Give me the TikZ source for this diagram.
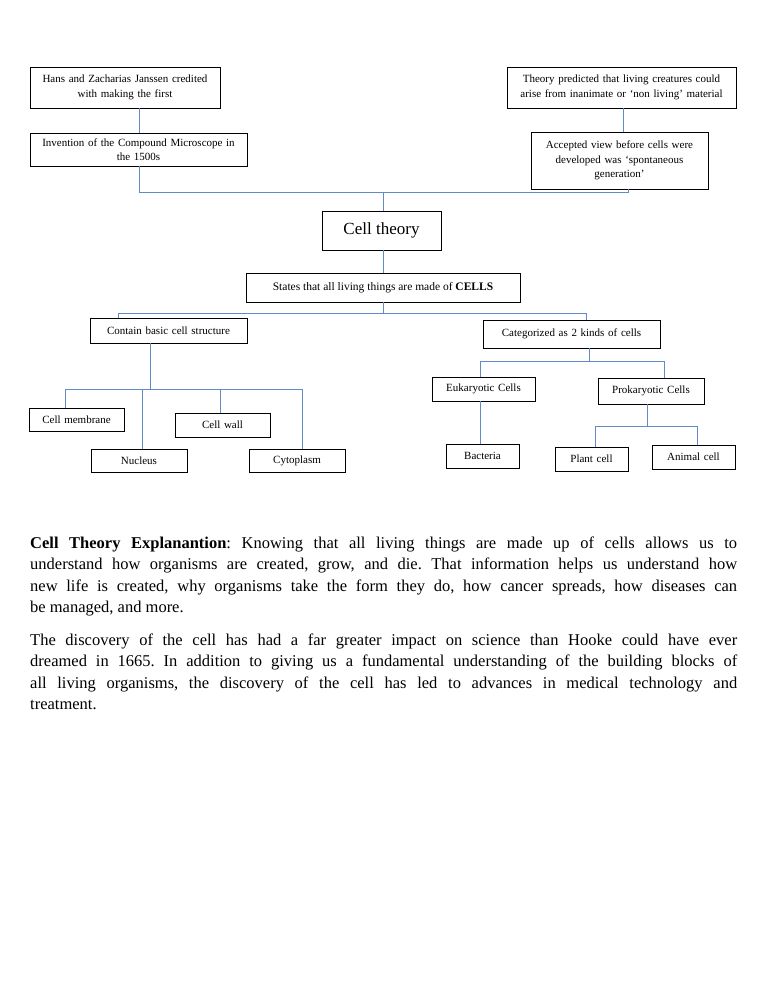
\documentclass[tikz,border=0pt]{standalone}
\usepackage{fontspec}
\setmainfont{Liberation Serif}
\frenchspacing
\definecolor{connblue}{RGB}{96,138,200}
\tikzset{
  box/.style={draw=black, line width=0.8pt, fill=white, inner sep=1pt, align=center,
    font=\fontsize{11}{14.5}\selectfont},
  conn/.style={draw=connblue, line width=0.8pt},
}
\newcommand{\bx}[6]{% name, x1, y1, x2, y2, text
  \node[box, minimum width={#4-#2}, minimum height={#5-#3}, text width={#4-#2-4}]
    (#1) at ({(#2+#4)/2},{(#3+#5)/2}) {#6};}
\begin{document}
\begin{tikzpicture}[x=1pt,y=-1pt]
\useasboundingbox[fill=white] (0,0) rectangle (768,1006);

\bx{hans}{30}{67}{220}{108}{Hans and Zacharias Janssen credited\\with making the first}
\bx{inv}{30}{133}{247}{166}{Invention of the Compound Microscope in\\the 1500s}
\bx{theory}{507}{67}{736}{108}{Theory predicted that living creatures could\\arise from inanimate or `non living' material}
\bx{acc}{531}{132}{708}{189}{Accepted view before cells were\\developed was `spontaneous\\generation'}
\node[box, minimum width=119, minimum height=39, font=\fontsize{17}{20}\selectfont] (ct) at (381.5,230.5) {Cell theory};
\node[box, minimum width=274, minimum height=29, font=\fontsize{11.5}{14}\selectfont] (states) at (383,287.5) {States that all living things are made of \textbf{CELLS}};
\bx{contain}{90}{318}{247}{343}{Contain basic cell structure}
\bx{cat}{483}{320}{660}{348}{Categorized as 2 kinds of cells}
\bx{euk}{432}{377}{535}{401}{Eukaryotic Cells}
\bx{pro}{598}{378}{704}{404}{Prokaryotic Cells}
\bx{mem}{29}{408}{124}{431}{Cell membrane}
\bx{wall}{175}{413}{270}{437}{Cell wall}
\bx{nuc}{91}{449}{187}{472}{Nucleus}
\bx{cyto}{249}{449}{345}{472}{Cytoplasm}
\bx{bac}{446}{444}{519}{468}{Bacteria}
\bx{plant}{555}{447}{628}{471}{Plant cell}
\bx{animal}{652}{445}{735}{469}{Animal cell}

% junction coordinates
\coordinate (j1) at (139,192);
\coordinate (j2) at (628,192);
\coordinate (j3) at (383,192);
\coordinate (j4) at (623,120);
\coordinate (k0) at (383,313);
\coordinate (k1) at (118,313);
\coordinate (k2) at (586,313);
\coordinate (m0) at (150,389);
\coordinate (m1) at (65,389);
\coordinate (m2) at (142,389);
\coordinate (m3) at (220,389);
\coordinate (m4) at (302,389);
\coordinate (n0) at (589,361);
\coordinate (n1) at (480,361);
\coordinate (n2) at (664,361);
\coordinate (p0) at (647,426);
\coordinate (p1) at (595,426);
\coordinate (p2) at (697,426);

\draw[conn] (hans.south -| j1) -- (inv.north -| j1);
\draw[conn] (inv.south -| j1) -- (j1) -- (j2) -- (acc.south -| j2);
\draw[conn] (j3) -- (ct.north -| j3);
\draw[conn] (theory.south -| j4) -- (acc.north -| j4);
\draw[conn] (ct.south -| j3) -- (states.north -| j3);
\draw[conn] (states.south -| k0) -- (k0);
\draw[conn] (contain.north -| k1) -- (k1) -- (k2) -- (cat.north -| k2);
\draw[conn] (contain.south -| m0) -- (m0);
\draw[conn] (mem.north -| m1) -- (m1) -- (m4) -- (cyto.north -| m4);
\draw[conn] (m2) -- (nuc.north -| m2);
\draw[conn] (m3) -- (wall.north -| m3);
\draw[conn] (cat.south -| n0) -- (n0);
\draw[conn] (euk.north -| n1) -- (n1) -- (n2) -- (pro.north -| n2);
\draw[conn] (euk.south -| n1) -- (bac.north -| n1);
\draw[conn] (pro.south -| p0) -- (p0);
\draw[conn] (plant.north -| p1) -- (p1) -- (p2) -- (animal.north -| p2);

\node[anchor=base west, inner sep=0pt, text width=707pt, align=justify,
  font=\fontsize{16.5}{21.5}\selectfont] (para1) at (30,548)
{\emergencystretch=3em\hbadness=10000\hfuzz=20pt
\textbf{Cell Theory Explanantion}: Knowing that all living things are made up of cells allows us to\linebreak
understand how organisms are created, grow, and die. That information helps us understand how\linebreak
new life is created, why organisms take the form they do, how cancer spreads, how diseases can\linebreak
be managed, and more.};
\node[anchor=base west, inner sep=0pt, text width=707pt, align=justify,
  font=\fontsize{16.5}{21.5}\selectfont] (para2) at (30,645)
{\emergencystretch=3em\hbadness=10000\hfuzz=20pt
The discovery of the cell has had a far greater impact on science than Hooke could have ever\linebreak
dreamed in 1665. In addition to giving us a fundamental understanding of the building blocks of\linebreak
all living organisms, the discovery of the cell has led to advances in medical technology and\linebreak
treatment.};
\end{tikzpicture}
\end{document}
